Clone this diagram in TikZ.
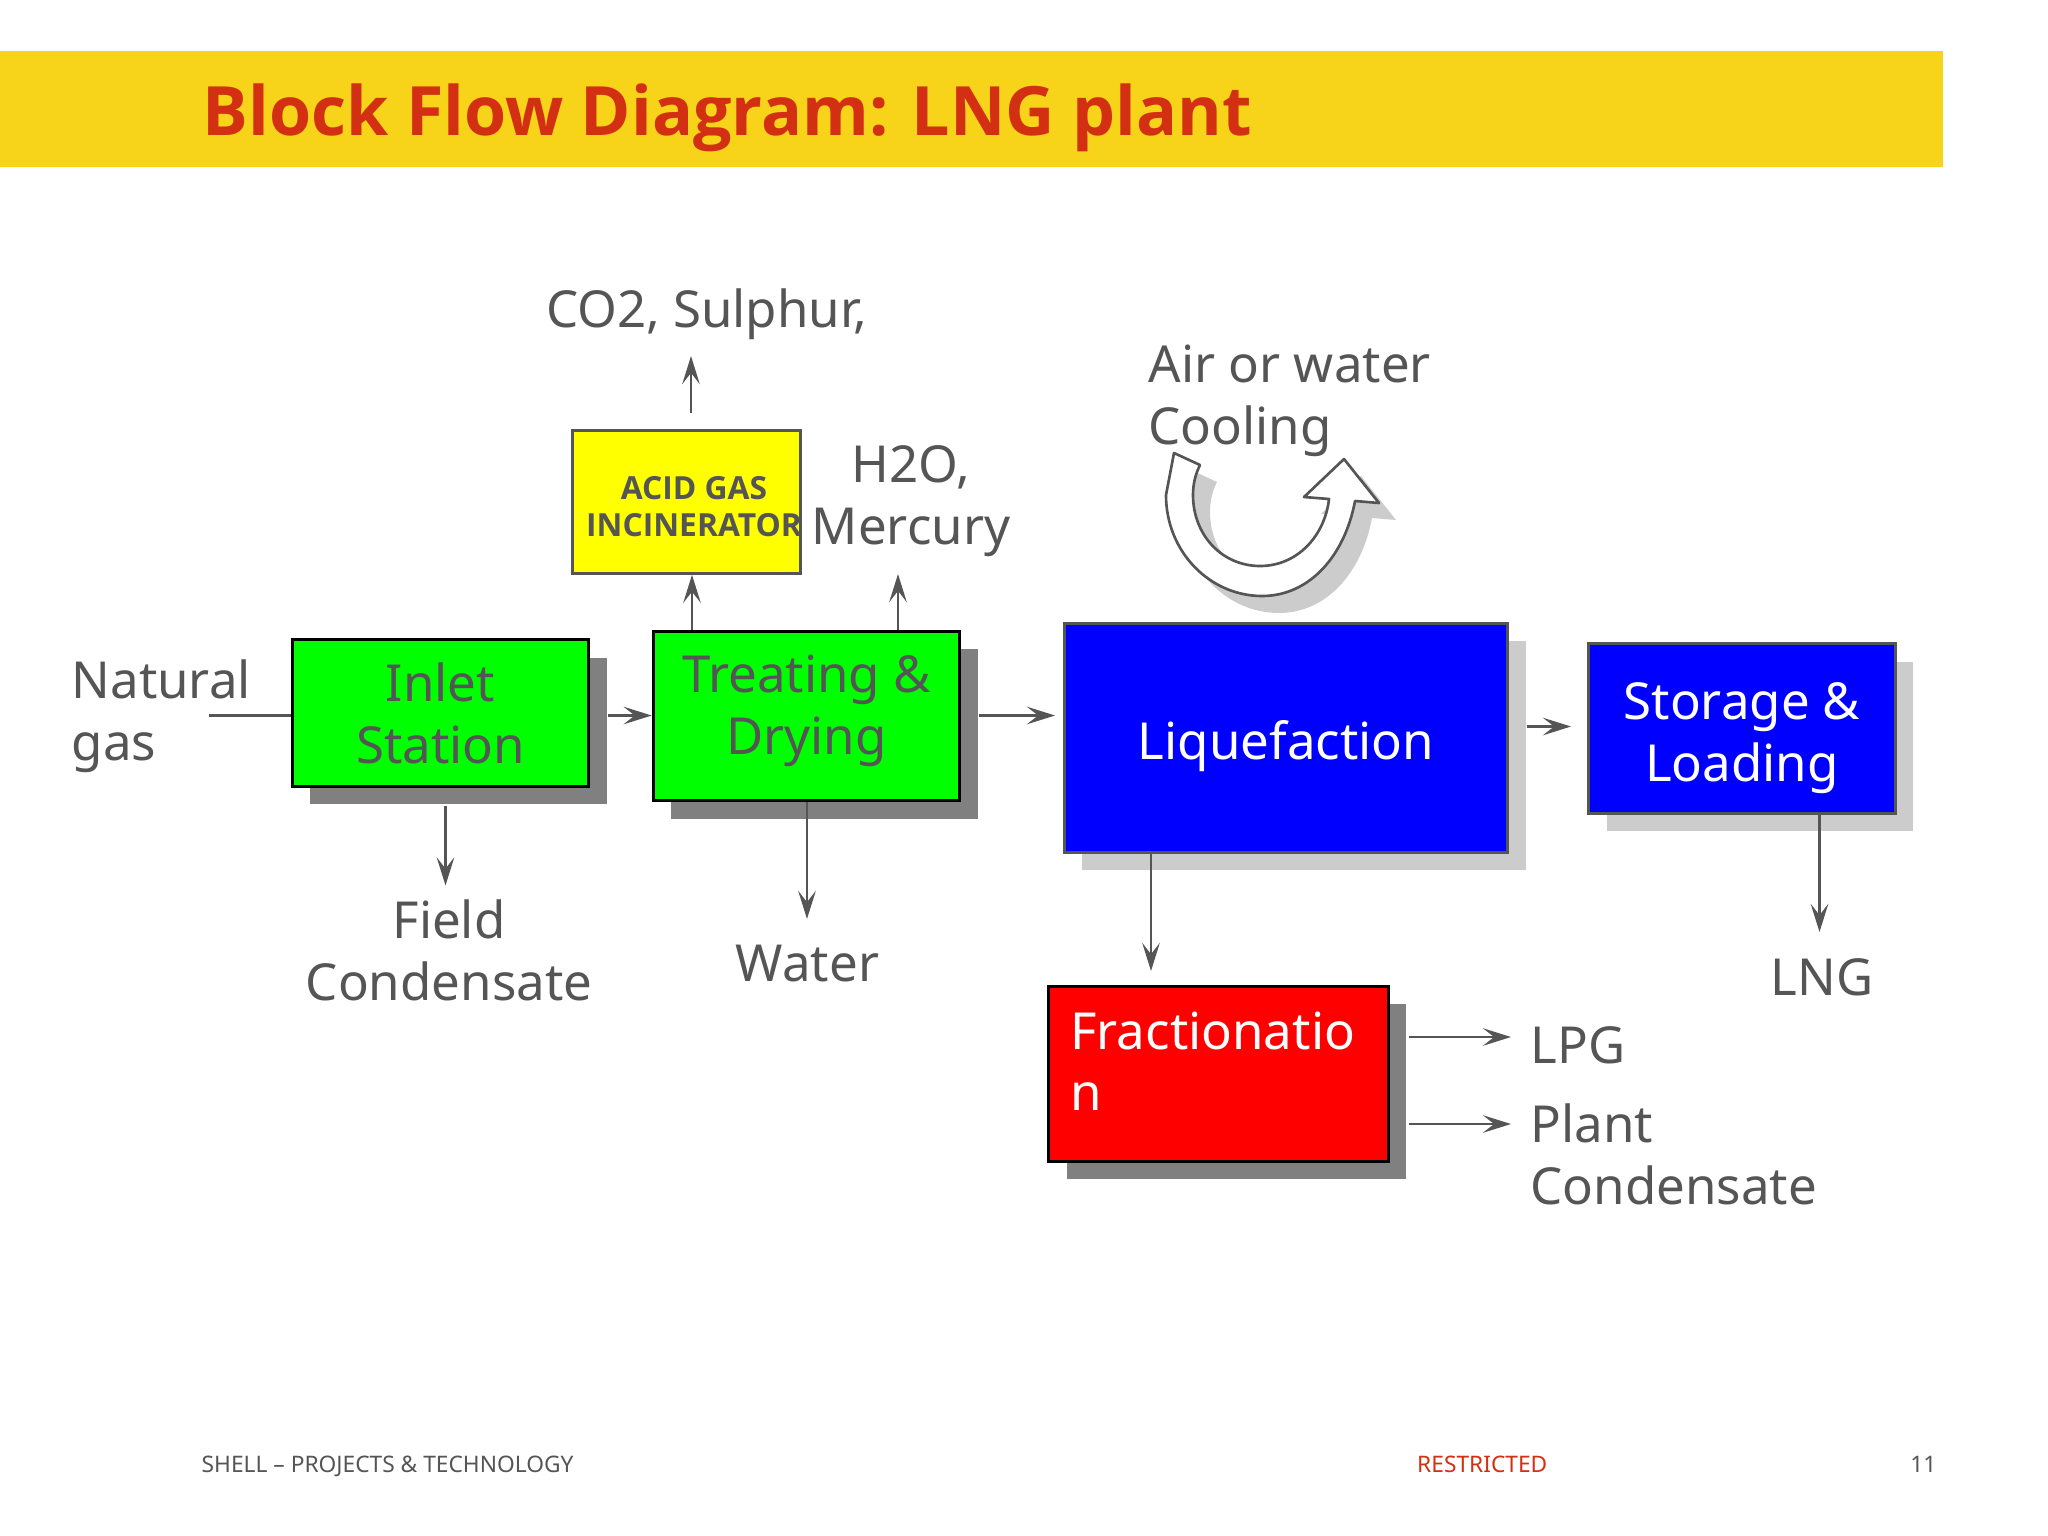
\documentclass[tikz,border=0pt]{standalone}
\usepackage{fontspec}
\setmainfont{Noto Sans}
\newfontfamily\heavyfont{Open Sans}
\usetikzlibrary{arrows.meta,shadows}

\definecolor{shellyellow}{HTML}{F7D31A}
\definecolor{shellred}{HTML}{D32F12}
\definecolor{inkgrey}{HTML}{555555}
\definecolor{darkshade}{HTML}{808080}
\definecolor{lightshade}{HTML}{CCCCCC}
\definecolor{purered}{HTML}{FF0000}
\definecolor{puregreen}{HTML}{00FF00}
\definecolor{pureblue}{HTML}{0000FF}
\definecolor{pureyellow}{HTML}{FFFF00}

\tikzset{
	flow/.style={color=inkgrey, line width=0.65pt, -{Stealth[length=8pt, width=5pt, inset=3.2pt]}},
	feed/.style={color=inkgrey, line width=0.65pt},
	plain/.style={inner sep=0pt, text=inkgrey, font=\fontsize{14.5}{17.6}\selectfont, align=center},
	blockbox/.style={draw=#1, line width=0.85pt, inner sep=0pt, align=center, font=\fontsize{14.5}{17.6}\selectfont},
	darkblock/.style={blockbox=black, text=inkgrey,
		drop shadow={shadow xshift=0.18cm, shadow yshift=-0.18cm, fill=darkshade, opacity=1}},
	lightblock/.style={blockbox=inkgrey, text=white,
		drop shadow={shadow xshift=0.18cm, shadow yshift=-0.18cm, fill=lightshade, opacity=1}},
	footer/.style={inner sep=0pt, text=inkgrey, font=\fontsize{6.47}{8}\selectfont}
}

\def\coolingpath{(1174,453) -- (1166,495)
	.. controls (1166,552) and (1210,596) .. (1262,596)
	.. controls (1310,596) and (1345,555) .. (1355,501)
	-- (1379,503) -- (1344,459) -- (1304,497) -- (1329,499)
	.. controls (1325,535) and (1298,566) .. (1260,566)
	.. controls (1222,566) and (1193,535) .. (1193,495)
	.. controls (1193,485) and (1195,475) .. (1200,465) -- cycle}

\begin{document}
\begin{tikzpicture}[x=0.01cm, y=-0.01cm]
	\useasboundingbox (0,0) rectangle (2048,1536);

	% header
	\node[fill=shellyellow, inner sep=0pt, outer sep=0pt, minimum width=19.44cm, minimum height=1.155cm, anchor=north west] (banner) at (-2,51) {};
	\node[anchor=base west, inner sep=0pt, text=shellred, font=\fontsize{19.35}{24}\selectfont\heavyfont\bfseries] (title) at (202,135) {Block Flow Diagram: LNG plant};

	% blocks
	\node[darkblock, fill=puregreen, minimum width=2.96cm, minimum height=1.46cm] (inlet) at (440.5,713) {Inlet\\Station};
	\node[darkblock, fill=puregreen, minimum width=3.065cm, minimum height=1.69cm, text depth=0.22cm] (treating) at (806.5,716) {Treating \&\\Drying};
	\node[blockbox=inkgrey, fill=pureyellow, text=inkgrey, minimum width=2.275cm, minimum height=1.425cm, text height=0.69cm, font=\fontsize{9.05}{10.6}\selectfont\heavyfont\bfseries] (acid) at (686.5,502) {\hspace*{0.15cm}\makebox[0pt]{ACID GAS}\\\hspace*{0.15cm}\makebox[0pt]{INCINERATOR}};
	\node[lightblock, fill=pureblue, minimum width=4.435cm, minimum height=2.29cm, text height=0.55cm, text depth=0.12cm] (liquefaction) at (1286,737.8) {Liquefaction};
	\node[lightblock, fill=pureblue, minimum width=3.06cm, minimum height=1.69cm] (storage) at (1742,728.5) {\rule{0pt}{0.56cm}Storage \&\\Loading};
	\node[darkblock, fill=purered, text=white, minimum width=3.395cm, minimum height=1.75cm, text width=2.96cm, text depth=0.87cm, align=left] (frac) at (1218.5,1073.8) {Fractionatio\\n};

	% labels
	\node[plain, anchor=base west] (co2) at (545.5,327) {CO2, Sulphur,};
	\node[plain] (h2o) at (911,501) {H2O,\\Mercury};
	\node[plain, anchor=west, align=left] (air) at (1148,401) {Air or water\\Cooling};
	\node[plain, anchor=west, align=left] (natural) at (71,716.5) {Natural\\gas};
	\node[plain] (field) at (449,950) {Field\\Condensate};
	\node[plain, anchor=base] (water) at (807.5,981) {Water};
	\node[plain, anchor=base] (lng) at (1822,995) {LNG};
	\node[plain, anchor=base west] (lpg) at (1530,1063.5) {LPG};
	\node[plain, anchor=west, align=left] (plant) at (1530,1154) {Plant\\Condensate};

	% free ends
	\coordinate (gasin) at (209,715.5);
	\coordinate (co2from) at (691,413);
	\coordinate (co2to) at (691,356);
	\coordinate (h2oto) at (898,574);
	\coordinate (acidin) at (692,574);
	\coordinate (fieldto) at (445.5,885.5);
	\coordinate (waterto) at (807,919);
	\coordinate (fracin) at (1151,971);
	\coordinate (lngto) at (1819.5,932);
	\coordinate (lpgfrom) at (1409,1037);
	\coordinate (lpgto) at (1511,1037);
	\coordinate (plantfrom) at (1409,1124);
	\coordinate (plantto) at (1511,1124);
	\coordinate (storein) at (1571,726.5);
	\coordinate (liqin) at (1055,715.5);

	% cooling loop
	\fill[lightshade, shift={(17,17)}] \coolingpath;
	\filldraw[fill=white, draw=inkgrey, line width=0.75pt, line join=round] \coolingpath;

	\path[feed]
	(gasin) edge (gasin -| inlet.west);

	\path[flow]
	(inlet.east |- gasin) edge[shorten <=0.18cm] (gasin -| treating.west)
	(treating.east |- gasin) edge[shorten <=0.18cm] (liqin)
	(liquefaction.east |- storein) edge[shorten <=0.18cm] (storein)
	(treating.north -| acidin) edge (acid.south -| acidin)
	(treating.north -| h2oto) edge (h2oto)
	(co2from) edge (co2to)
	(inlet.south -| fieldto) edge[shorten <=0.18cm] (fieldto)
	(treating.south -| waterto) edge (waterto)
	(liquefaction.south -| fracin) edge (fracin)
	(storage.south -| lngto) edge (lngto)
	(lpgfrom) edge (lpgto)
	(plantfrom) edge (plantto);

	% footer
	\node[footer, anchor=base west] (shell) at (201,1472) {SHELL – PROJECTS \& TECHNOLOGY};
	\node[footer, anchor=base west, text=shellred] (restricted) at (1416.5,1472) {RESTRICTED};
	\node[footer, anchor=base east] (page) at (1937,1472) {11};
\end{tikzpicture}
\end{document}
